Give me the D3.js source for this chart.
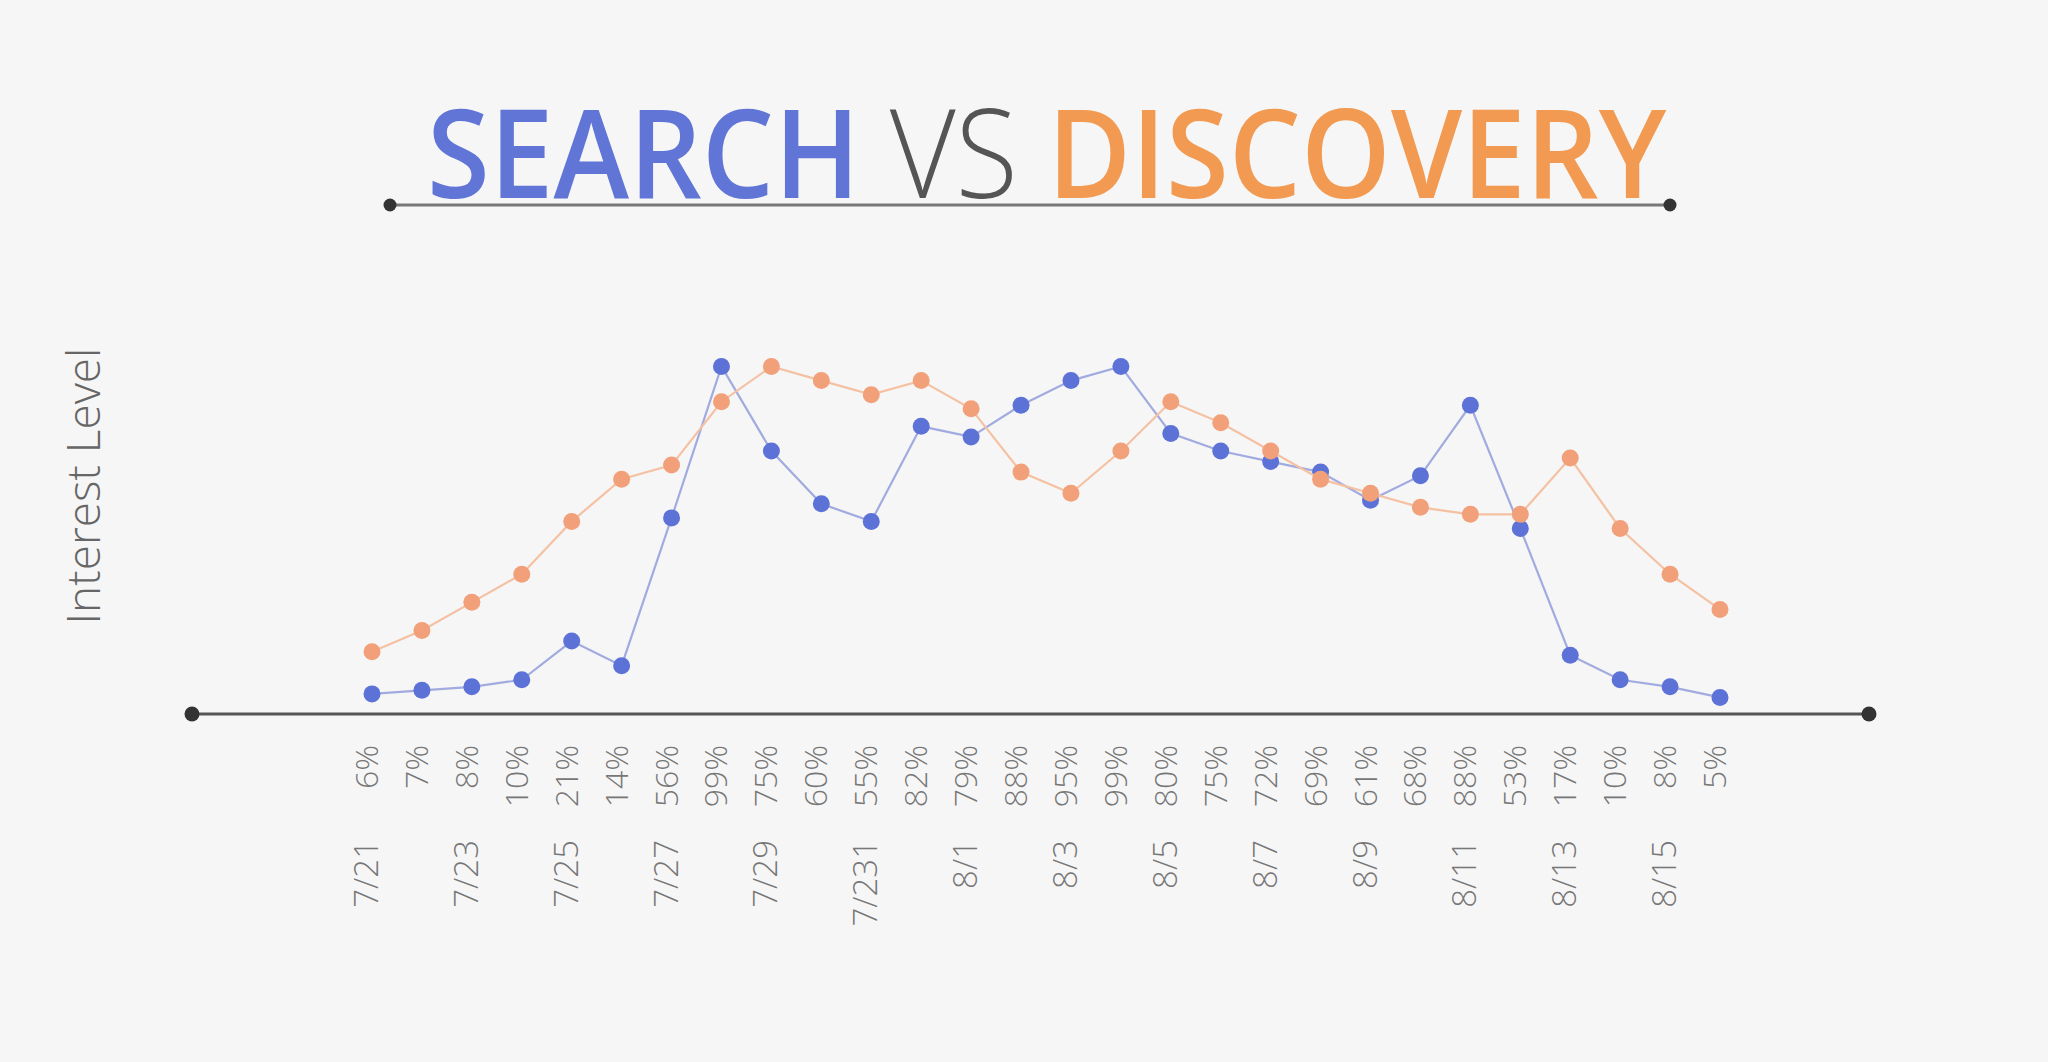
<!DOCTYPE html>
<html>
<head>
<meta charset="utf-8">
<script src="https://cdn.jsdelivr.net/npm/d3@7"></script>
<style>
  body { margin: 0; background: #f6f6f6; }
  svg { display: block; font-family: "Open Sans", sans-serif; }
</style>
</head>
<body>
<svg width="2048" height="1062"></svg>
<script>
// data
var search = [6, 7, 8, 10, 21, 14, 56, 99, 75, 60, 55, 82, 79, 88, 95, 99, 80, 75, 72, 69, 61, 68, 88, 53, 17, 10, 8, 5];
var discovery = [18, 24, 32, 40, 55, 67, 71, 89, 99, 95, 91, 95, 87, 69, 63, 75, 89, 83, 75, 67, 63, 59, 57, 57, 73, 53, 40, 30];
var dates = ["7/21", "", "7/23", "", "7/25", "", "7/27", "", "7/29", "", "7/231", "", "8/1", "",
             "8/3", "", "8/5", "", "8/7", "", "8/9", "", "8/11", "", "8/13", "", "8/15", ""];

var blue = "#5d72d6", orange = "#f29a52";

var svg = d3.select("svg");

// title, squeezed to the width of the original
var tg = svg.append("g");
var title = tg.append("text")
  .attr("x", 0)
  .attr("y", 0)
  .attr("font-size", 124);
title.append("tspan").attr("fill", "#6075d6").attr("font-weight", 600).text("SEARCH ");
title.append("tspan").attr("fill", "#555").attr("font-weight", 300).text("VS ");
title.append("tspan").attr("fill", orange).attr("font-weight", 600).text("DISCOVERY");
var bb = title.node().getBBox();
var sx = 1240 / bb.width;
tg.attr("transform", "translate(" + (427 - bb.x * sx) + ",198) scale(" + sx + ",1)");

// underline with end dots
svg.append("line")
  .attr("x1", 390).attr("x2", 1670)
  .attr("y1", 205).attr("y2", 205)
  .attr("stroke", "#777").attr("stroke-width", 3);
svg.selectAll(".tdot")
  .data([390, 1670])
  .enter().append("circle")
  .attr("cx", function (d) { return d; })
  .attr("cy", 205).attr("r", 6.5)
  .attr("fill", "#333");

// scales
var x = d3.scalePoint()
  .domain(d3.range(search.length))
  .range([372, 1720]);

var y = d3.scaleLinear()
  .domain([0, 100])
  .range([715, 363]);

// baseline
svg.append("line")
  .attr("x1", 192).attr("x2", 1869)
  .attr("y1", 714).attr("y2", 714)
  .attr("stroke", "#555").attr("stroke-width", 3);
svg.selectAll(".adot")
  .data([192, 1869])
  .enter().append("circle")
  .attr("cx", function (d) { return d; })
  .attr("cy", 714).attr("r", 7.5)
  .attr("fill", "#333");

// y label
svg.append("text")
  .attr("transform", "translate(100,486) rotate(-90)")
  .attr("text-anchor", "middle")
  .attr("font-size", 46)
  .attr("font-weight", 300)
  .attr("fill", "#666")
  .text("Interest Level");

// percentage labels
svg.append("g").selectAll("text")
  .data(search)
  .enter().append("text")
  .attr("transform", function (d, i) { return "translate(" + (x(i) + 6) + ",745) rotate(-90)"; })
  .attr("text-anchor", "end")
  .attr("font-size", 32)
  .attr("font-weight", 300)
  .attr("fill", "#777")
  .text(function (d) { return d + "%"; });

// date labels
svg.append("g").selectAll("text")
  .data(dates)
  .enter().append("text")
  .attr("transform", function (d, i) { return "translate(" + (x(i) + 6) + ",840) rotate(-90)"; })
  .attr("text-anchor", "end")
  .attr("font-size", 33)
  .attr("font-weight", 300)
  .attr("fill", "#777")
  .text(function (d) { return d; });

var line = d3.line()
  .x(function (d, i) { return x(i); })
  .y(function (d) { return y(d); });

function drawSeries(data, lineColor, dotColor) {
  svg.append("path")
    .datum(data)
    .attr("fill", "none")
    .attr("stroke", lineColor)
    .attr("stroke-width", 2.2)
    .attr("d", line);
  svg.append("g").selectAll("circle")
    .data(data)
    .enter().append("circle")
    .attr("cx", function (d, i) { return x(i); })
    .attr("cy", function (d) { return y(d); })
    .attr("r", 8.5)
    .attr("fill", dotColor);
}

drawSeries(search, "#a2abdf", blue);
drawSeries(discovery, "#f5c1a3", "#f2a07a");
</script>
</body>
</html>
